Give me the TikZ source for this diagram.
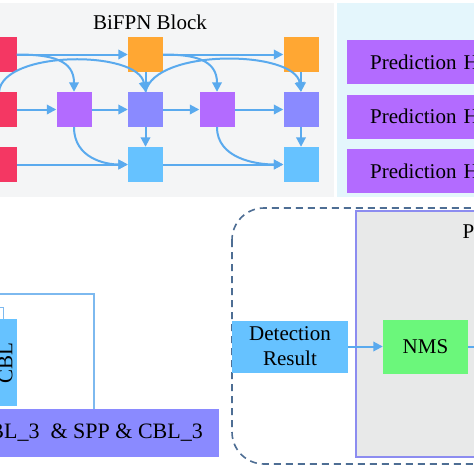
\documentclass[tikz,border=0pt]{standalone}
\usepackage{fontspec}
\setmainfont{Liberation Serif}
\usetikzlibrary{arrows.meta}
\definecolor{cred}{HTML}{F43763}
\definecolor{corange}{HTML}{FFA733}
\definecolor{cpurple}{HTML}{B36BFF}
\definecolor{cbp}{HTML}{8A8AFF}
\definecolor{clb}{HTML}{66C2FF}
\definecolor{carrow}{HTML}{5AAAEE}
\definecolor{cgreen}{HTML}{6BF77B}
\definecolor{cbgA}{HTML}{F4F5F6}
\definecolor{cbgB}{HTML}{E4F6FC}
\definecolor{cgray}{HTML}{E8E9E9}
\definecolor{cgborder}{HTML}{8C8CF0}
\definecolor{cdash}{HTML}{4E6E94}
\definecolor{cline}{HTML}{7DB9EF}
\begin{document}
\begin{tikzpicture}[x=1pt,y=-1pt,
  sq/.style={minimum size=35pt,inner sep=0pt,draw=none},
  arr/.style={draw=carrow,line width=2pt,-{Triangle[length=9.5pt,width=9.5pt]}},
  txt/.style={font=\fontsize{21}{25}\selectfont,text=black},
  outl/.style={draw=cline,line width=1.5pt}]
\useasboundingbox (0,0) rectangle (474,474);
\clip (0,0) rectangle (474,474);
\fill[white] (0,0) rectangle (474,474);
% panels
\fill[cbgA] (-5,3) rectangle (334,197);
\fill[cbgB] (337,3) rectangle (480,197);
\node[txt] (title) at (150,22) {BiFPN Block};
% squares
\node[sq,fill=cred] (r1) at (-1,54.5) {};
\node[sq,fill=cred] (r2) at (-1,109.5) {};
\node[sq,fill=cred] (r3) at (-1,164.5) {};
\node[sq,fill=cpurple] (p1) at (74,109.5) {};
\node[sq,fill=corange] (o2) at (145.5,54.5) {};
\node[sq,fill=cbp] (bp2) at (145.5,109.5) {};
\node[sq,fill=clb] (lb2) at (145.5,164.5) {};
\node[sq,fill=cpurple] (p3) at (217,109.5) {};
\node[sq,fill=corange] (o4) at (301,54.5) {};
\node[sq,fill=cbp] (bp4) at (301,109.5) {};
\node[sq,fill=clb] (lb4) at (301,164.5) {};
% straight edges
\draw[arr] (r1) -- (o2);
\draw[arr] (o2) -- (o4);
\draw[arr] (r2) -- (p1);
\draw[arr] (p1) -- (bp2);
\draw[arr] (bp2) -- (p3);
\draw[arr] (p3) -- (bp4);
\draw[arr] (r3) -- (lb2);
\draw[arr] (lb2) -- (lb4);
\draw[arr] (o2) -- (bp2);
\draw[arr] (bp2) -- (lb2);
\draw[arr] (o4) -- (bp4);
\draw[arr] (bp4) -- (lb4);
% curved edges
\draw[arr] (r1.east) .. controls (52,54.5) and (74,60) .. (p1.north);
\draw[arr] (o2.east) .. controls (195,54.5) and (217,60) .. (p3.north);
\draw[arr] (r2.north) .. controls (3,50) and (138,50) .. (bp2.north);
\draw[arr] (bp2.north) .. controls (155,48) and (295,50) .. (bp4.north);
\draw[arr] (p1.south) .. controls (74,158) and (105,164.5) .. (lb2.west);
\draw[arr] (p3.south) .. controls (217,158) and (255,164.5) .. (lb4.west);
% prediction heads
\node[txt,fill=cpurple,anchor=west,minimum height=44pt,inner xsep=23pt,inner ysep=0pt,text width=150pt,align=left] (ph1) at (347,62) {Prediction Head};
\node[txt,fill=cpurple,anchor=west,minimum height=44pt,inner xsep=23pt,inner ysep=0pt,text width=150pt,align=left] (ph2) at (347,116.5) {Prediction Head};
\node[txt,fill=cpurple,anchor=west,minimum height=44pt,inner xsep=23pt,inner ysep=0pt,text width=150pt,align=left] (ph3) at (347,171) {Prediction Head};
% bottom left
\draw[outl] (-5,294) -- (94,294) -- (94,409);
\draw[outl,line width=1pt] (-5,307) -- (3,307) -- (3,319);
\node[fill=clb,minimum width=47pt,minimum height=87pt,inner sep=0pt] (cbl) at (-6.5,362.5) {};
\node[txt,rotate=90,inner sep=0pt] (cbltxt) at (5.5,363) {CBL};
\node[txt,font=\fontsize{22}{26}\selectfont,fill=cbp,anchor=east,minimum height=48pt,inner xsep=16pt,inner ysep=0pt] (bar) at (219,433) {CBL\_3\ \ \& SPP \& CBL\_3};
% bottom right
\draw[cdash,line width=1.6pt,dash pattern=on 7pt off 5pt,rounded corners=32pt] (232,208) rectangle (540,464);
\draw[fill=cgray,draw=cgborder,line width=1.5pt] (356,211) rectangle (540,457);
\node[txt,anchor=west] (post) at (459,234) {Post-processing};
\node[txt,fill=clb,minimum width=116pt,minimum height=52pt,inner sep=0pt,align=center] (det) at (290,346.5) {Detection\\Result};
\node[txt,fill=cgreen,minimum width=85pt,minimum height=54pt,inner sep=0pt] (nms) at (425.5,346.5) {NMS};
\coordinate (out) at (490,346.5);
\draw[arr] (det) -- (nms);
\draw[arr] (nms) -- (out);
\end{tikzpicture}
\end{document}
